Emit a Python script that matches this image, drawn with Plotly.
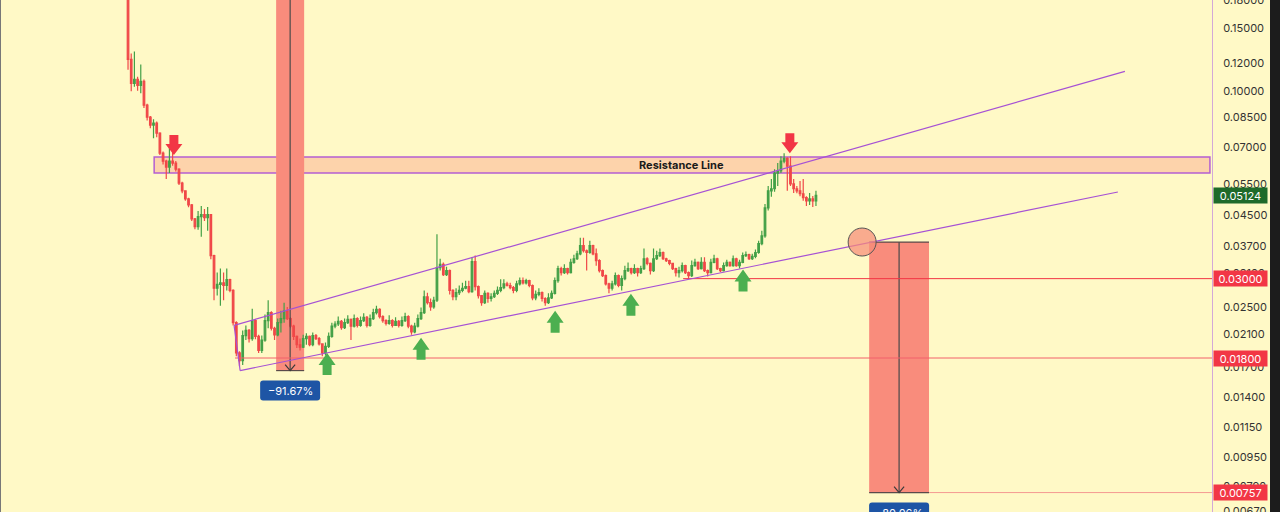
import math
import plotly.graph_objects as go

# ---------------- data (prices) ----------------
first_open = 0.205
close = [
    0.1230, 0.1054, 0.1082, 0.1041, 0.1068, 0.0916, 0.0848, 0.0806, 0.0816, 0.0765,
    0.0673, 0.0639, 0.0615, 0.0639, 0.0631, 0.0607, 0.0555, 0.0528, 0.0501, 0.0482,
    0.0441, 0.0419, 0.0447, 0.0453, 0.0444, 0.0453, 0.0348, 0.0282, 0.0289, 0.0292,
    0.0287, 0.0298, 0.0278, 0.0226, 0.0186, 0.0177, 0.0208, 0.0215, 0.0204, 0.0229,
    0.0207, 0.0189, 0.0202, 0.0229, 0.0241, 0.0218, 0.0209, 0.0226, 0.0232, 0.0244,
    0.0232, 0.0221, 0.0207, 0.0196, 0.0193, 0.0204, 0.0207, 0.0196, 0.0208, 0.0204,
    0.0197, 0.0186, 0.0194, 0.0207, 0.0221, 0.0224, 0.0228, 0.0219, 0.0226, 0.0231,
    0.0221, 0.0232, 0.0222, 0.0229, 0.0234, 0.0222, 0.0232, 0.0241, 0.0246, 0.0235,
    0.0229, 0.0225, 0.0229, 0.0222, 0.0228, 0.0222, 0.0229, 0.0235, 0.0221, 0.0213,
    0.0221, 0.0232, 0.0241, 0.0267, 0.0257, 0.0250, 0.0261, 0.0322, 0.0329, 0.0308,
    0.0316, 0.0278, 0.0267, 0.0274, 0.0278, 0.0282, 0.0285, 0.0276, 0.0335, 0.0285,
    0.0269, 0.0257, 0.0273, 0.0264, 0.0267, 0.0273, 0.0278, 0.0283, 0.0290, 0.0287,
    0.0283, 0.0278, 0.0290, 0.0296, 0.0292, 0.0296, 0.0287, 0.0265, 0.0271, 0.0274,
    0.0264, 0.0257, 0.0265, 0.0273, 0.0296, 0.0320, 0.0312, 0.0320, 0.0312, 0.0333,
    0.0341, 0.0352, 0.0371, 0.0359, 0.0355, 0.0371, 0.0352, 0.0337, 0.0316, 0.0306,
    0.0290, 0.0282, 0.0290, 0.0306, 0.0287, 0.0300, 0.0316, 0.0320, 0.0312, 0.0320,
    0.0312, 0.0320, 0.0341, 0.0331, 0.0316, 0.0341, 0.0348, 0.0355, 0.0341, 0.0337,
    0.0331, 0.0320, 0.0312, 0.0316, 0.0326, 0.0312, 0.0306, 0.0326, 0.0333, 0.0320,
    0.0333, 0.0316, 0.0312, 0.0333, 0.0341, 0.0320, 0.0316, 0.0326, 0.0333, 0.0326,
    0.0341, 0.0326, 0.0333, 0.0348, 0.0350, 0.0341, 0.0346, 0.0355, 0.0376, 0.0395,
    0.0473, 0.0528, 0.0535, 0.0592, 0.0600, 0.0639, 0.0651, 0.0619, 0.0552, 0.0535,
    0.0528, 0.0518, 0.0505, 0.0495, 0.0501, 0.0495, 0.05124,
]
high = [
    0.2220, 0.1278, 0.1295, 0.1100, 0.1191, 0.1080, 0.0925, 0.0855, 0.0837, 0.0825,
    0.0770, 0.0680, 0.0645, 0.0704, 0.0682, 0.0640, 0.0610, 0.0560, 0.0530, 0.0505,
    0.0485, 0.0443, 0.0464, 0.0479, 0.0470, 0.0476, 0.0455, 0.0350, 0.0312, 0.0320,
    0.0312, 0.0320, 0.0300, 0.0280, 0.0228, 0.0188, 0.0215, 0.0222, 0.0217, 0.0247,
    0.0231, 0.0209, 0.0208, 0.0238, 0.0261, 0.0243, 0.0220, 0.0232, 0.0244, 0.0257,
    0.0250, 0.0234, 0.0223, 0.0208, 0.0204, 0.0209, 0.0211, 0.0208, 0.0212, 0.0210,
    0.0206, 0.0198, 0.0199, 0.0212, 0.0226, 0.0228, 0.0235, 0.0230, 0.0232, 0.0237,
    0.0232, 0.0238, 0.0234, 0.0235, 0.0240, 0.0236, 0.0238, 0.0247, 0.0252, 0.0248,
    0.0237, 0.0231, 0.0237, 0.0231, 0.0234, 0.0230, 0.0235, 0.0241, 0.0237, 0.0223,
    0.0226, 0.0238, 0.0249, 0.0278, 0.0274, 0.0264, 0.0267, 0.0399, 0.0341, 0.0333,
    0.0324, 0.0318, 0.0280, 0.0282, 0.0287, 0.0292, 0.0296, 0.0296, 0.0344, 0.0348,
    0.0287, 0.0270, 0.0278, 0.0275, 0.0273, 0.0278, 0.0285, 0.0299, 0.0299, 0.0294,
    0.0292, 0.0286, 0.0296, 0.0302, 0.0302, 0.0300, 0.0298, 0.0289, 0.0278, 0.0282,
    0.0276, 0.0266, 0.0273, 0.0278, 0.0302, 0.0326, 0.0324, 0.0329, 0.0322, 0.0341,
    0.0350, 0.0359, 0.0390, 0.0390, 0.0362, 0.0383, 0.0373, 0.0364, 0.0340, 0.0318,
    0.0308, 0.0292, 0.0296, 0.0312, 0.0308, 0.0306, 0.0326, 0.0333, 0.0322, 0.0329,
    0.0322, 0.0326, 0.0364, 0.0344, 0.0333, 0.0364, 0.0359, 0.0364, 0.0357, 0.0343,
    0.0339, 0.0332, 0.0322, 0.0324, 0.0333, 0.0328, 0.0314, 0.0337, 0.0341, 0.0335,
    0.0344, 0.0344, 0.0318, 0.0341, 0.0350, 0.0343, 0.0322, 0.0333, 0.0339, 0.0335,
    0.0348, 0.0343, 0.0339, 0.0355, 0.0357, 0.0352, 0.0352, 0.0362, 0.0383, 0.0408,
    0.0485, 0.0545, 0.0570, 0.0607, 0.0631, 0.0660, 0.0672, 0.0655, 0.0660, 0.0570,
    0.0545, 0.0562, 0.0570, 0.0510, 0.0521, 0.0511, 0.0528,
]
low = [
    0.1150, 0.1002, 0.1032, 0.1005, 0.0989, 0.0900, 0.0830, 0.0790, 0.0741, 0.0745,
    0.0665, 0.0625, 0.0570, 0.0592, 0.0620, 0.0598, 0.0548, 0.0520, 0.0495, 0.0475,
    0.0435, 0.0412, 0.0411, 0.0393, 0.0435, 0.0408, 0.0340, 0.0261, 0.0269, 0.0252,
    0.0261, 0.0278, 0.0275, 0.0222, 0.0182, 0.0171, 0.0172, 0.0202, 0.0199, 0.0201,
    0.0203, 0.0186, 0.0186, 0.0200, 0.0218, 0.0215, 0.0202, 0.0207, 0.0212, 0.0226,
    0.0230, 0.0218, 0.0202, 0.0192, 0.0189, 0.0192, 0.0196, 0.0194, 0.0194, 0.0202,
    0.0195, 0.0182, 0.0183, 0.0192, 0.0205, 0.0218, 0.0221, 0.0216, 0.0217, 0.0224,
    0.0202, 0.0219, 0.0219, 0.0220, 0.0227, 0.0219, 0.0220, 0.0230, 0.0238, 0.0232,
    0.0226, 0.0222, 0.0223, 0.0219, 0.0221, 0.0219, 0.0220, 0.0227, 0.0218, 0.0209,
    0.0211, 0.0219, 0.0230, 0.0239, 0.0254, 0.0244, 0.0247, 0.0258, 0.0316, 0.0305,
    0.0305, 0.0271, 0.0261, 0.0261, 0.0270, 0.0275, 0.0280, 0.0273, 0.0274, 0.0278,
    0.0264, 0.0252, 0.0255, 0.0257, 0.0259, 0.0265, 0.0270, 0.0275, 0.0280, 0.0285,
    0.0280, 0.0273, 0.0275, 0.0287, 0.0289, 0.0289, 0.0284, 0.0261, 0.0261, 0.0268,
    0.0259, 0.0252, 0.0255, 0.0263, 0.0271, 0.0292, 0.0306, 0.0309, 0.0308, 0.0310,
    0.0330, 0.0338, 0.0349, 0.0355, 0.0316, 0.0352, 0.0349, 0.0326, 0.0312, 0.0303,
    0.0287, 0.0273, 0.0278, 0.0287, 0.0284, 0.0278, 0.0297, 0.0313, 0.0308, 0.0309,
    0.0304, 0.0309, 0.0317, 0.0327, 0.0308, 0.0313, 0.0338, 0.0345, 0.0338, 0.0334,
    0.0327, 0.0317, 0.0304, 0.0302, 0.0312, 0.0309, 0.0300, 0.0303, 0.0324, 0.0317,
    0.0318, 0.0313, 0.0304, 0.0310, 0.0331, 0.0317, 0.0313, 0.0314, 0.0324, 0.0324,
    0.0324, 0.0324, 0.0320, 0.0331, 0.0345, 0.0338, 0.0338, 0.0342, 0.0352, 0.0372,
    0.0390, 0.0465, 0.0508, 0.0525, 0.0545, 0.0592, 0.0630, 0.0528, 0.0545, 0.0521,
    0.0520, 0.0510, 0.0495, 0.0479, 0.0482, 0.0476, 0.0479,
]
open_ = [first_open] + close[:-1]
bar = list(range(len(close)))

# axis ticks
tick_vals = [0.18, 0.15, 0.12, 0.10, 0.085, 0.07, 0.055, 0.045, 0.037, 0.031,
             0.025, 0.021, 0.017, 0.014, 0.0115, 0.0095, 0.0079, 0.0067]
tick_text = ["0.18000", "0.15000", "0.12000", "0.10000", "0.08500", "0.07000",
             "0.05500", "0.04500", "0.03700", "0.03100", "0.02500", "0.02100",
             "0.01700", "0.01400", "0.01150", "0.00950", "0.00790", "0.00670"]
y_range = [0.00668, 0.1803]
x_range = [-40.2, 340.35]

# drawing annotations (bar index, price)
resistance_zone = dict(x0=8.2, x1=339.7, low=0.0592, high=0.0656, label="Resistance Line", label_x=173.9, label_y=0.0622)
level_prices = [0.03000, 0.01800, 0.00757]
level_starts = [174.3, 33.6, 251.5]
level_colors = ["#F23645", "#F2606A", "#F59A92"]
level_text = ["0.03000", "0.01800", "0.00757"]
last_price, last_text = 0.05124, "0.05124"
channel_upper = [(33.3, 0.0222), (313.0, 0.1139)]
channel_lower = [(35.2, 0.0166), (310.8, 0.0524)]
measures = [
    dict(x0=46.5, x1=55.3, top=0.1993, bottom=0.0166, text="\u221291.67%", top_edge=False),
    dict(x0=232.7, x1=251.5, top=0.03797, bottom=0.00757, text="\u221280.06%", top_edge=True),
]
circle_at = (230.5, 0.03797)
down_arrows = [(14.4, 0.0665), (207.8, 0.0672)]
up_arrows = [(62.5, 0.0186), (92.0, 0.0205), (134.1, 0.0244), (157.9, 0.0272), (193.1, 0.0318)]

BG = "#FFF9C6"
GREEN = "#43A047"
RED = "#F04848"
PURPLE = "#A651D4"
FONT = "Inter"

fig = go.Figure()
fig.add_trace(go.Candlestick(
    x=bar, open=open_, high=high, low=low, close=close,
    increasing=dict(line=dict(color=GREEN, width=1.2), fillcolor=GREEN),
    decreasing=dict(line=dict(color=RED, width=1.2), fillcolor=RED),
    whiskerwidth=0, hoverinfo="skip", showlegend=False,
))

shapes = []
annotations = []

# resistance zone
rz = resistance_zone
shapes.append(dict(type="rect", xref="x", yref="y", x0=rz["x0"], x1=rz["x1"], y0=rz["low"], y1=rz["high"],
                   fillcolor="#FDD3AB", line=dict(color="#B45FD2", width=1.5), layer="below"))
annotations.append(dict(x=rz["label_x"], y=math.log10(rz["label_y"]), xref="x", yref="y",
                        text="<b>%s</b>" % rz["label"], showarrow=False,
                        font=dict(family=FONT, size=11, color="#1a1a1a")))

# measurement tools
def rounded_box(w, h, top, r=3):
    a, b = -w / 2, w / 2
    t, bt = -top, -top - h
    return (f"M {a+r},{t} L {b-r},{t} Q {b},{t} {b},{t-r} L {b},{bt+r} Q {b},{bt} {b-r},{bt} "
            f"L {a+r},{bt} Q {a},{bt} {a},{bt+r} L {a},{t-r} Q {a},{t} {a+r},{t} Z")

def circle_path(r):
    k = 0.5523 * r
    return (f"M {r},0 C {r},{k} {k},{r} 0,{r} C {-k},{r} {-r},{k} {-r},0 "
            f"C {-r},{-k} {-k},{-r} 0,{-r} C {k},{-r} {r},{-k} {r},0 Z")

for m in measures:
    cx = (m["x0"] + m["x1"]) / 2
    shapes.append(dict(type="rect", xref="x", yref="y", x0=m["x0"], x1=m["x1"], y0=m["bottom"], y1=m["top"],
                       fillcolor="#F98C7C", line=dict(width=0), layer="below"))
    shapes.append(dict(type="line", xref="x", yref="y", x0=cx, x1=cx, y0=m["top"], y1=m["bottom"],
                       line=dict(color="#4a4a4a", width=1.2)))
    shapes.append(dict(type="line", xref="x", yref="y", x0=m["x0"], x1=m["x1"], y0=m["bottom"], y1=m["bottom"],
                       line=dict(color="#5a4a4a", width=1.2)))
    if m["top_edge"]:
        shapes.append(dict(type="line", xref="x", yref="y", x0=m["x0"], x1=m["x1"], y0=m["top"], y1=m["top"],
                           line=dict(color="#5a4a4a", width=1.2)))
    shapes.append(dict(type="path", xref="x", yref="y", xsizemode="pixel", ysizemode="pixel",
                       xanchor=cx, yanchor=m["bottom"], path="M -5,6 L 0,0 L 5,6",
                       line=dict(color="#3a3a3a", width=1.2)))
    shapes.append(dict(type="path", xref="x", yref="y", xsizemode="pixel", ysizemode="pixel",
                       xanchor=cx, yanchor=m["bottom"], path=rounded_box(60, 20, 10),
                       fillcolor="#1E55A5", line=dict(width=0)))
    annotations.append(dict(x=cx, y=math.log10(m["bottom"]), xref="x", yref="y", yshift=-20,
                            text=m["text"], showarrow=False,
                            font=dict(family=FONT, size=11, color="white")))

# horizontal levels
for p, s, c in zip(level_prices, level_starts, level_colors):
    shapes.append(dict(type="line", xref="x", yref="y", x0=s, x1=x_range[1] + 5, y0=p, y1=p,
                       line=dict(color=c, width=1)))

# channel
for (p0, p1) in (channel_upper, channel_lower):
    shapes.append(dict(type="line", xref="x", yref="y", x0=p0[0], y0=p0[1], x1=p1[0], y1=p1[1],
                       line=dict(color=PURPLE, width=1.2)))
shapes.append(dict(type="line", xref="x", yref="y", x0=channel_upper[0][0], y0=channel_upper[0][1],
                   x1=channel_lower[0][0], y1=channel_lower[0][1], line=dict(color=PURPLE, width=1.2)))

# circle
shapes.append(dict(type="path", xref="x", yref="y", xsizemode="pixel", ysizemode="pixel",
                   xanchor=circle_at[0], yanchor=circle_at[1], path=circle_path(14),
                   fillcolor="rgba(246,140,120,0.72)", line=dict(color="#555555", width=1)))

# arrows
down_path = "M -4.5,20 L 4.5,20 L 4.5,11 L 8.5,11 L 0,0 L -8.5,11 L -4.5,11 Z"
up_path = "M -4.5,-22 L 4.5,-22 L 4.5,-12 L 8.5,-12 L 0,0 L -8.5,-12 L -4.5,-12 Z"
for (xa, ya) in down_arrows:
    shapes.append(dict(type="path", xref="x", yref="y", xsizemode="pixel", ysizemode="pixel",
                       xanchor=xa, yanchor=ya, path=down_path, fillcolor="#F23645", line=dict(width=0)))
for (xa, ya) in up_arrows:
    shapes.append(dict(type="path", xref="x", yref="y", xsizemode="pixel", ysizemode="pixel",
                       xanchor=xa, yanchor=ya, path=up_path, fillcolor="#4CAF50", line=dict(width=0)))

# price-axis labels
for p, t in zip(level_prices, level_text):
    annotations.append(dict(x=1, xref="paper", xanchor="left", xshift=1, y=math.log10(p), yref="y",
                            text=t, showarrow=False, bgcolor="#F23645", width=53, height=15,
                            borderpad=0, font=dict(family=FONT, size=11, color="white")))
annotations.append(dict(x=1, xref="paper", xanchor="left", xshift=1, y=math.log10(last_price), yref="y",
                        text=last_text, showarrow=False, bgcolor="#1F6A2A", width=53, height=15,
                        borderpad=0, font=dict(family=FONT, size=11, color="white")))

# right dark strip and left border
shapes.append(dict(type="rect", xref="paper", yref="paper", x0=1270 / 1212, x1=1290 / 1212, y0=-0.1, y1=1.1,
                   fillcolor="#1c1c1c", line=dict(width=0), layer="above"))
shapes.append(dict(type="line", xref="paper", yref="paper", x0=0.0004, x1=0.0004, y0=0, y1=1,
                   line=dict(color="#777777", width=1)))

fig.update_layout(
    width=1280, height=512,
    margin=dict(l=0, r=68, t=0, b=0, autoexpand=False),
    paper_bgcolor=BG, plot_bgcolor=BG,
    shapes=shapes, annotations=annotations,
    showlegend=False, hovermode=False,
    xaxis=dict(range=x_range, visible=False, rangeslider=dict(visible=False), fixedrange=True,
               automargin=False),
    yaxis=dict(type="log", side="right", range=[math.log10(y_range[0]), math.log10(y_range[1])],
               tickvals=tick_vals, ticktext=tick_text, showgrid=False, zeroline=False,
               showline=True, linecolor="#D3A8D8", linewidth=1, ticks="",
               ticklabelstandoff=8, ticklabeloverflow="allow", automargin=False,
               tickfont=dict(family=FONT, size=11, color="#333333"), fixedrange=True),
)

fig.write_html("out.html", config=dict(displayModeBar=False),
               post_script="document.body.style.margin='0';document.body.style.overflow='hidden';")
